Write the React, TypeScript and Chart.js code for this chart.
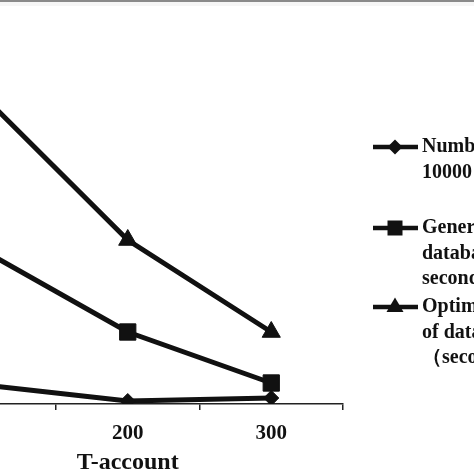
import React, { useEffect, useRef } from 'react';
import { Chart, registerables } from 'chart.js';

Chart.register(...registerables);

// ---- data ----
const CATEGORIES = ['100', '200', '300'];
const RECORDS = [19, 3, 6];
const GEN_TIME = [153, 72, 21];
const OPT_TIME = [307, 164, 72];
const LABEL_RECORDS = ['Number of records', '10000'];
const LABEL_GEN = ['Generation time of', 'database (in', 'seconds)'];
const LABEL_OPT = ['Optimization time', 'of database', '（seconds）'];
const X_TITLE = 'T-account';

// ---- layout ----
const CANVAS_LEFT = -100;
const CANVAS_W = 574;
const CANVAS_H = 474;
const INK = '#111';
const SERIF = '"Liberation Serif", "Times New Roman", serif';

function drawMarker(ctx: CanvasRenderingContext2D, style: string, x: number, y: number) {
  ctx.beginPath();
  if (style === 'rectRot') {
    ctx.moveTo(x - 7.5, y);
    ctx.lineTo(x, y - 7.5);
    ctx.lineTo(x + 7.5, y);
    ctx.lineTo(x, y + 7.5);
  } else if (style === 'rect') {
    ctx.rect(x - 7.5, y - 7.5, 15, 15);
  } else {
    ctx.moveTo(x, y - 9.5);
    ctx.lineTo(x + 8.5, y + 5);
    ctx.lineTo(x - 8.5, y + 5);
  }
  ctx.closePath();
  ctx.fill();
}

const sideLegend = {
  id: 'sideLegend',
  afterDraw(chart: any) {
    const ctx: CanvasRenderingContext2D = chart.ctx;
    const off = -CANVAS_LEFT;
    const tops = [147, 228, 307];
    const lineGap = 25.5;
    ctx.save();
    chart.data.datasets.forEach((ds: any, i: number) => {
      const y0 = tops[i];
      ctx.strokeStyle = INK;
      ctx.fillStyle = INK;
      ctx.lineWidth = 4.5;
      ctx.beginPath();
      ctx.moveTo(373 + off, y0);
      ctx.lineTo(418 + off, y0);
      ctx.stroke();
      drawMarker(ctx, ds.pointStyle, 395 + off, y0);
      ctx.font = `bold 20px ${SERIF}`;
      ctx.textAlign = 'left';
      ctx.textBaseline = 'middle';
      (ds.legendLines as string[]).forEach((t, k) => {
        ctx.fillText(t, 422 + off, y0 + k * lineGap);
      });
    });
    ctx.restore();
  },
};

export default function App() {
  const ref = useRef<HTMLCanvasElement | null>(null);

  useEffect(() => {
    if (!ref.current) return;
    const common = {
      borderColor: INK,
      backgroundColor: INK,
      pointBackgroundColor: INK,
      pointBorderColor: INK,
      borderWidth: 5,
      pointBorderWidth: 1,
      fill: false,
      tension: 0,
    };
    const chart = new Chart(ref.current, {
      type: 'line',
      data: {
        labels: CATEGORIES,
        datasets: [
          { ...common, label: LABEL_RECORDS.join(' '), legendLines: LABEL_RECORDS, data: RECORDS, pointStyle: 'rectRot', pointRadius: 7.5 } as any,
          { ...common, label: LABEL_GEN.join(' '), legendLines: LABEL_GEN, data: GEN_TIME, pointStyle: 'rect', pointRadius: 11.5 } as any,
          { ...common, label: LABEL_OPT.join(' '), legendLines: LABEL_OPT, data: OPT_TIME, pointStyle: 'triangle', pointRadius: 10.5 } as any,
        ],
      },
      options: {
        responsive: false,
        animation: false,
        layout: { padding: { left: 8, right: 131, top: 24, bottom: 0 } },
        plugins: { legend: { display: false }, tooltip: { enabled: false } },
        scales: {
          x: {
            type: 'category',
            offset: true,
            afterFit: (s: any) => { s.height = 70; },
            grid: { offset: true, drawOnChartArea: false, drawTicks: true, tickLength: 6, color: '#222', lineWidth: 1.5 },
            border: { display: true, color: '#222', width: 1.5 },
            ticks: { color: INK, maxRotation: 0, padding: 11, font: { family: SERIF, size: 21, weight: 'bold' } },
            title: { display: true, text: X_TITLE, color: INK, padding: { top: 0, bottom: -1 }, font: { family: SERIF, size: 24, weight: 'bold', lineHeight: 1 } },
          },
          y: { display: false, min: 0, max: 380 },
        },
      } as any,
      plugins: [sideLegend],
    });
    return () => chart.destroy();
  }, []);

  return (
    <div style={{ position: 'fixed', left: 0, top: 0, width: 474, height: 474, overflow: 'hidden', background: '#fff' }}>
      <canvas
        ref={ref}
        width={CANVAS_W}
        height={CANVAS_H}
        style={{ position: 'absolute', left: CANVAS_LEFT, top: 0, width: CANVAS_W, height: CANVAS_H }}
      />
      <div style={{ position: 'absolute', left: 0, top: 0, width: 474, height: 2, background: '#8a8a8a' }} />
      <div style={{ position: 'absolute', left: 0, top: 2, width: 474, height: 4, background: '#f6f6f6' }} />
    </div>
  );
}
